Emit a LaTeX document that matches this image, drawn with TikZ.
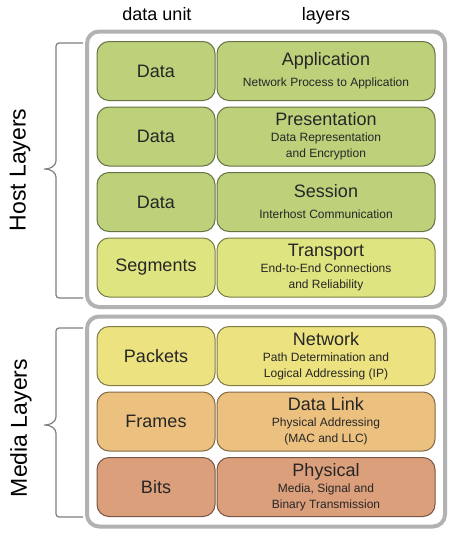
\documentclass[tikz,border=0pt]{standalone}
\usepackage{fontspec}
\setmainfont{Liberation Sans}
\usepackage{tikz}
\usetikzlibrary{positioning,fit,shapes}
\definecolor{hostgreen}{HTML}{BDD17B}
\definecolor{transyellow}{HTML}{DEE47F}
\definecolor{netyellow}{HTML}{ECE280}
\definecolor{linkorange}{HTML}{ECC180}
\definecolor{physred}{HTML}{DC9F7C}
\tikzstyle{box} = [rectangle, rounded corners=12pt, line width=1pt,
    text centered, minimum height=59pt, inner sep=0pt, outer sep=0pt, text=black!85]
\tikzstyle{unit} = [box, minimum width=118pt, font=\fontsize{18}{20}\selectfont]
\tikzstyle{layer} = [box, minimum width=218pt, align=center,
    font=\fontsize{12}{16}\selectfont]
\tikzstyle{host} = [fill=hostgreen, draw=hostgreen!55!black]
\tikzstyle{trans} = [fill=transyellow, draw=transyellow!55!black]
\tikzstyle{net} = [fill=netyellow, draw=netyellow!55!black]
\tikzstyle{link} = [fill=linkorange, draw=linkorange!55!black]
\tikzstyle{phys} = [fill=physred, draw=physred!55!black]
\tikzstyle{group} = [draw=black!30, line width=4pt, rounded corners=12pt,
    inner sep=10pt, outer sep=0pt]
\tikzstyle{brace} = [draw=black!50, line width=1.2pt, rounded corners=3pt]
\newcommand{\lname}[1]{{\fontsize{18}{20}\selectfont #1}}

\begin{document}
\begin{tikzpicture}[x=1pt, y=-1pt]
    \useasboundingbox (0,0) rectangle (474,557);
    % column heads
    \node [anchor=base, font=\fontsize{18}{20}\selectfont] (hu) at (157,20) {data unit};
    \node [anchor=base, font=\fontsize{18}{20}\selectfont] (hl) at (326,20) {layers};
    % Place nodes
    \node [unit, host] (1l) at (156,71) {Data};
    \node [layer, host, right=2pt of 1l] (1r) {\lname{Application}\\[5pt]Network Process to Application};
    \node [unit, host, below=6.5pt of 1l] (2l) {Data};
    \node [layer, host, right=2pt of 2l] (2r) {\lname{Presentation}\\Data Representation\\and Encryption};
    \node [unit, host, below=6.5pt of 2l] (3l) {Data};
    \node [layer, host, right=2pt of 3l] (3r) {\lname{Session}\\[5pt]Interhost Communication};
    \node [unit, trans, below=6.5pt of 3l] (4l) {Segments};
    \node [layer, trans, right=2pt of 4l] (4r) {\lname{Transport}\\End-to-End Connections\\and Reliability};
    \node [unit, net, below=29.5pt of 4l] (5l) {Packets};
    \node [layer, net, right=2pt of 5l] (5r) {\lname{Network}\\Path Determination and\\Logical Addressing (IP)};
    \node [unit, link, below=6.5pt of 5l] (6l) {Frames};
    \node [layer, link, right=2pt of 6l] (6r) {\lname{Data Link}\\Physical Addressing\\(MAC and LLC)};
    \node [unit, phys, below=6.5pt of 6l] (7l) {Bits};
    \node [layer, phys, right=2pt of 7l] (7r) {\lname{Physical}\\Media, Signal and\\Binary Transmission};
      % background boxes
    \node (hostbox) [group, fit=(1l) (1r) (4l) (4r)] {};
    \node (mediabox) [group, fit=(5l) (5r) (7l) (7r)] {};
      % braces
    \path [brace] (83,43) -- (56,43) -- (56,158)
        .. controls (56,166) and (50,169) .. (42,169)
        .. controls (50,169) and (56,172) .. (56,180) -- (56,298) -- (83,298);
    \path [brace] (83,328) -- (56,328) -- (56,414)
        .. controls (56,422) and (50,425) .. (42,425)
        .. controls (50,425) and (56,428) .. (56,436) -- (56,517) -- (83,517);
    \node [rotate=90, font=\fontsize{23}{26}\selectfont] (hlab) at (20,170) {Host Layers};
    \node [rotate=90, font=\fontsize{23}{26}\selectfont] (mlab) at (21,428) {Media Layers};
\end{tikzpicture}
\end{document}
